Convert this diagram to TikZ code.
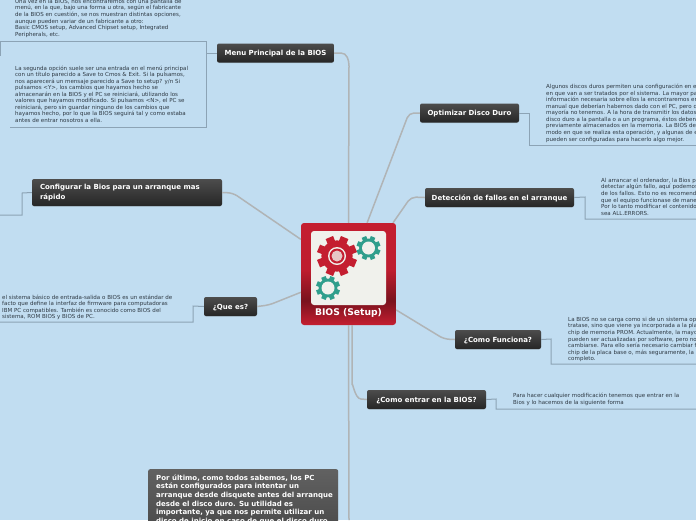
\documentclass[tikz,border=0pt]{standalone}
\usepackage{fontspec}
\setmainfont{DejaVu Sans}
\usetikzlibrary{shadows}

\definecolor{sky}{HTML}{C1DDF1}
\definecolor{notetext}{HTML}{2F3A44}
\definecolor{leafline}{HTML}{8CA3B5}
\definecolor{branchline}{HTML}{B0B4B6}
\definecolor{gearred}{HTML}{C41E30}
\definecolor{gearteal}{HTML}{2F9E8C}
\definecolor{cardface}{HTML}{F0F1EC}

\pgfdeclareverticalshading{redcard}{100bp}{color(0bp)=(gearred); color(25bp)=(gearred); color(37bp)=(gearred!62!black); color(52bp)=(gearred!97!black); color(75bp)=(gearred); color(100bp)=(gearred)}

\tikzset{
    topic/.style={rounded corners=2pt,top color=black!70,bottom color=black!85,text=white,
        font=\fontsize{7}{8.6}\selectfont\bfseries,align=left,inner sep=0pt,drop shadow={shadow xshift=0pt,shadow yshift=-0.6pt,opacity=0.25}},
    topicline/.style={topic,align=center,minimum height=19pt,text height=5.2pt,text depth=0pt},
    note/.style={anchor=north west,inner sep=0pt,text=notetext,align=left,
        font=\fontsize{5.53}{6.55}\selectfont},
    branch/.style={draw=branchline,line width=1.5pt},
    leaf/.style={draw=leafline,line width=1pt},
}

\newcommand{\gearshape}[4]{% x, y, radius, colour
    \fill[#4] (#1,#2) circle (#3*0.78);
    \foreach \a in {0,45,...,315} {
        \fill[#4,shift={(#1,#2)},rotate=\a+22.5] (-#3*0.2,0) rectangle (#3*0.2,#3);
    }
}

\begin{document}
\begin{tikzpicture}[x=1pt,y=-1pt]
    \useasboundingbox (0,0) rectangle (696,520);
    \clip (0,0) rectangle (696,520);
    \fill[sky] (0,0) rectangle (696,520);

    % main card
    \node[rounded corners=3pt,shading=redcard,minimum width=95pt,minimum height=102pt,inner sep=0pt] (central) at (348.5,274) {};

    % topics
    \node[topicline,minimum width=117pt] (menu) at (275.5,53) {Menu Principal de la BIOS};
    \node[topicline,minimum width=99pt] (disco) at (469.5,113) {Optimizar Disco Duro};
    \node[topicline,minimum width=149pt] (fallos) at (499.5,197.5) {Detección de fallos en el arranque};
    \node[topic,minimum width=190pt,minimum height=27pt,text width=174pt] (rapido) at (127,192.5) {Configurar la Bios para un arranque mas\\[0.7pt]rápido};
    \node[topicline,minimum width=53pt] (quees) at (230.5,306.5) {¿Que es?};
    \node[topicline,minimum width=86pt] (funciona) at (498,339.5) {¿Como Funciona?};
    \node[topicline,minimum width=119pt] (entrar) at (426.5,399.5) {¿Como entrar en la BIOS?};
    \node[topic,anchor=north west,minimum width=190pt,minimum height=70pt,text width=176pt,top color=black!62,bottom color=black!72] (ultimo) at (148,469) {};
    \node[anchor=north west,inner sep=0pt,text=white,font=\fontsize{7}{8.55}\selectfont\bfseries,align=left] (ultimotxt) at (156,474.6)
        {Por último, como todos sabemos, los PC\\están configurados para intentar un\\arranque desde disquete antes del arranque\\desde el disco duro. Su utilidad es\\importante, ya que nos permite utilizar un\\disco de inicio en caso de que el disco duro};

    % notes
    \node[note] (menua) at (15,-1) {Una vez en la BIOS, nos encontraremos con una pantalla de\\menú, en la que, bajo una forma u otra, según el fabricante\\de la BIOS en cuestión, se nos muestran distintas opciones,\\aunque pueden variar de un fabricante a otro:\\Basic CMOS setup, Advanced Chipset setup, Integrated\\Peripherals, etc.};
    \node[note] (menub) at (15,65.5) {La segunda opción suele ser una entrada en el menú principal\\con un título parecido a Save to Cmos \& Exit. Si la pulsamos,\\nos aparecerá un mensaje parecido a Save to setup? y/n Si\\pulsamos <Y>, los cambios que hayamos hecho se\\almacenarán en la BIOS y el PC se reiniciará, utilizando los\\valores que hayamos modificado. Si pulsamos <N>, el PC se\\reiniciará, pero sin guardar ninguno de los cambios que\\hayamos hecho, por lo que la BIOS seguirá tal y como estaba\\antes de entrar nosotros a ella.};
    \node[note] (discotxt) at (546,84) {Algunos discos duros permiten una configuración en el\\en que van a ser tratados por el sistema. La mayor parte\\información necesaria sobre ellos la encontraremos en\\manual que deberían habernos dado con el PC, pero que\\mayoría no tenemos. A la hora de transmitir los datos\\disco duro a la pantalla o a un programa, éstos deben\\previamente almacenados en la memoria. La BIOS determina\\modo en que se realiza esta operación, y algunas de estas\\pueden ser configuradas para hacerlo algo mejor.};
    \node[note] (fallostxt) at (601,178) {Al arrancar el ordenador, la Bios puede\\detectar algún fallo, aquí podemos\\de los fallos. Esto no es recomendable\\que el equipo funcionase de manera\\Por lo tanto modificar el contenido\\sea ALL.ERRORS.};
    \node[note] (queestxt) at (2,294.5) {el sistema básico de entrada-salida o BIOS es un estándar de\\facto que define la interfaz de firmware para computadoras\\IBM PC compatibles. También es conocido como BIOS del\\sistema, ROM BIOS y BIOS de PC.};
    \node[note] (funcionatxt) at (568,317) {La BIOS no se carga como si de un sistema operativo\\tratase, sino que viene ya incorporada a la placa\\chip de memoria PROM. Actualmente, la mayoría\\pueden ser actualizadas por software, pero no\\cambiarse. Para ello sería necesario cambiar físicamente\\chip de la placa base o, más seguramente, la placa\\completo.};
    \node[note] (entrartxt) at (513,393) {Para hacer cualquier modificación tenemos que entrar en la\\Bios y lo hacemos de la siguiente forma};

    % free ends of the connectors
    \coordinate (bottom) at (349,520);
    \coordinate (menuup) at (206,41);
    \coordinate (menudown) at (206,127);
    \coordinate (menuleft) at (10,127);
    \coordinate (menuend) at (0,41);
    \coordinate (menutick) at (0,56);
    \coordinate (discoend) at (696,145);
    \coordinate (fallosend) at (696,219);
    \coordinate (funcionaend) at (696,364);
    \coordinate (entrarend) at (696,409);
    \coordinate (queesend) at (0,322);
    \coordinate (rapidoend) at (0,215);

    % branches
    \draw[branch] (menu.east) -- (341,53) to[out=0,in=90] (349,66) -- (central.north);
    \draw[branch,rounded corners=5pt] (disco.west) -- (409,113) -- (central.70);
    \draw[branch,rounded corners=5pt] (fallos.west) -- (411,197) -- (central.49);
    \draw[branch,rounded corners=5pt] (rapido.east) -- (233,193) -- (central.144);
    \draw[branch,rounded corners=5pt] (quees.east) -- (269,305) -- (central.201);
    \draw[branch,rounded corners=5pt] (funciona.west) -- (444,339) -- (central.-37);
    \draw[branch] (entrar.west) -- (361,399) to[out=180,in=90] (352,385) -- (central.-86);
    \draw[branch] (central.south) -- (bottom);

    % leaves
    \draw[leaf] (menu.west) -- (menu.west -| menuup);
    \draw[leaf] (menutick) -- (menuend) -- (menuup) -- (menudown) -- (menuleft);
    \draw[leaf] (disco.east) -- (529,113) -- (529,145) -- (discoend);
    \draw[leaf] (fallos.east) -- (585,197) -- (585,219) -- (fallosend);
    \draw[leaf] (funciona.east) -- (551,339) -- (551,364) -- (funcionaend);
    \draw[leaf] (entrar.east) -- (496,399) -- (496,409) -- (entrarend);
    \draw[leaf] (quees.west) -- (193,306) -- (193,322) -- (queesend);
    \draw[leaf] (rapido.west) -- (22,193) -- (22,215) -- (rapidoend);

    % picture on the card
    \fill[cardface,rounded corners=3pt] (311,231) rectangle (386,305);
    \gearshape{337}{256}{20}{gearred}
    \fill[cardface] (337,256) circle (9);
    \fill[gearred] (337,256) circle (7.5);
    \fill[cardface!80!gearred] (337,256) circle (5.5);
    \gearshape{368.5}{248}{12}{gearteal}
    \fill[cardface] (368.5,248) circle (6.5);
    \gearshape{328}{288}{12}{gearteal}
    \fill[cardface] (328,288) circle (6.5);

    \node[text=white,inner sep=0pt,font=\fontsize{9.2}{10}\selectfont\bfseries] (title) at (348.5,313) {BIOS (Setup)};
\end{tikzpicture}
\end{document}
